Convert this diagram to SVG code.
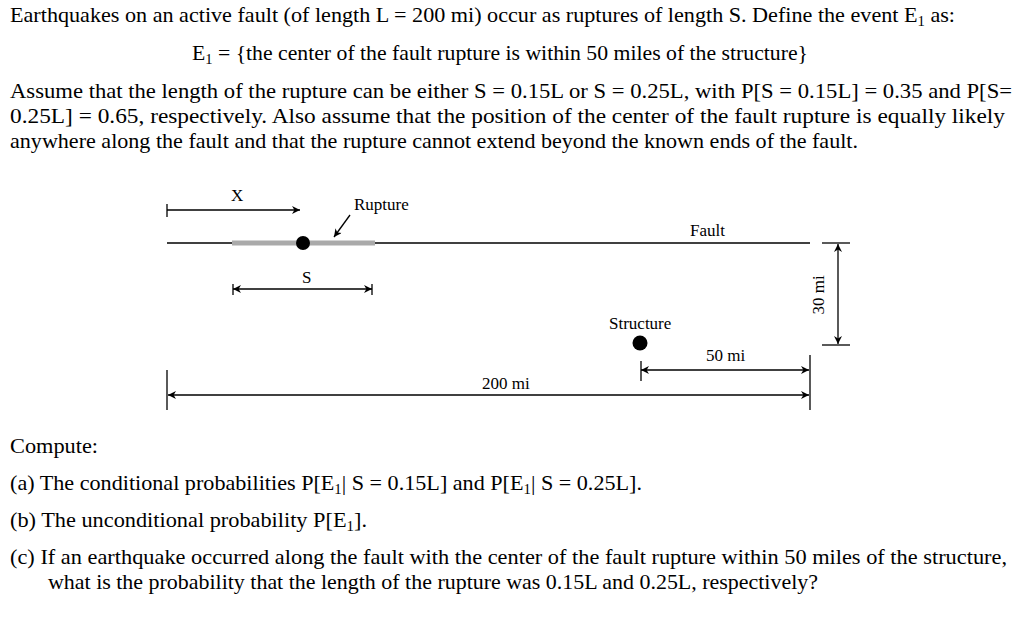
<svg xmlns="http://www.w3.org/2000/svg" width="1030" height="618" viewBox="0 0 1030 618">
<style>
.t{font-family:"Liberation Serif",serif;font-size:21px;fill:#000}
.s{font-family:"Liberation Serif",serif;font-size:17px;fill:#000}
.l{stroke:#000;stroke-width:1.3;fill:none}
</style>
<defs><marker id="a" viewBox="0 0 10 10" refX="10" refY="5" markerWidth="12" markerHeight="8" orient="auto-start-reverse" markerUnits="userSpaceOnUse"><path d="M0,0L10,5L0,10L3,5z" fill="#000"/></marker></defs>
<rect width="1030" height="618" fill="#fff"/>
<g id="text">
<text class="t" x="10" y="22" textLength="945" lengthAdjust="spacingAndGlyphs">Earthquakes on an active fault (of length L = 200 mi) occur as ruptures of length S.  Define the event E<tspan font-size="14" dy="4">1</tspan><tspan dy="-4"> as:</tspan></text>
<text class="t" x="192" y="60" textLength="616" lengthAdjust="spacingAndGlyphs">E<tspan font-size="14" dy="4">1</tspan><tspan dy="-4"> = {the center of the fault rupture is within 50 miles of the structure}</tspan></text>
<text class="t" x="10" y="98" textLength="1002" lengthAdjust="spacingAndGlyphs">Assume that the length of the rupture can be either S = 0.15L or S = 0.25L, with P[S = 0.15L] = 0.35 and P[S=</text>
<text class="t" x="10" y="123" textLength="995" lengthAdjust="spacingAndGlyphs">0.25L] = 0.65, respectively.  Also assume that the position of the center of the fault rupture is equally likely</text>
<text class="t" x="10" y="148" textLength="848" lengthAdjust="spacingAndGlyphs">anywhere along the fault and that the rupture cannot extend beyond the known ends of the fault.</text>
<text class="t" x="10" y="453" textLength="88" lengthAdjust="spacingAndGlyphs">Compute:</text>
<text class="t" x="10" y="490" textLength="632" lengthAdjust="spacingAndGlyphs">(a)  The conditional probabilities P[E<tspan font-size="14" dy="4">1</tspan><tspan dy="-4">| S = 0.15L] and P[E</tspan><tspan font-size="14" dy="4">1</tspan><tspan dy="-4">| S = 0.25L].</tspan></text>
<text class="t" x="10" y="527" textLength="357" lengthAdjust="spacingAndGlyphs">(b)  The unconditional probability P[E<tspan font-size="14" dy="4">1</tspan><tspan dy="-4">].</tspan></text>
<text class="t" x="10" y="564" textLength="997" lengthAdjust="spacingAndGlyphs">(c)  If an earthquake occurred along the fault with the center of the fault rupture within 50 miles of the structure,</text>
<text class="t" x="48" y="589" textLength="770" lengthAdjust="spacingAndGlyphs">what is the probability that the length of the rupture was 0.15L and 0.25L, respectively?</text>
</g>
<g id="fault">
<line class="l" x1="167" y1="243" x2="810" y2="243" stroke-width="2"/>
<line x1="232" y1="243" x2="375" y2="243" stroke="#aaa" stroke-width="5"/>
<circle cx="303" cy="243" r="7" fill="#000"/>
<text class="s" x="690" y="236">Fault</text>
</g>
<g id="rupture"><text class="s" x="354" y="210">Rupture</text></g>
<g id="structure"><text class="s" x="609" y="329">Structure</text><circle cx="640" cy="343" r="7.5" fill="#000"/></g>
<g id="connectors">
<line class="l" x1="167" y1="204" x2="167" y2="217"/>
<line class="l" x1="167" y1="210" x2="300" y2="210" marker-end="url(#a)"/>
<text class="s" x="231" y="201">X</text>
<line class="l" x1="350" y1="215" x2="334" y2="237" marker-end="url(#a)"/>
<line class="l" x1="233" y1="284" x2="233" y2="295"/>
<line class="l" x1="372" y1="284" x2="372" y2="295"/>
<line class="l" x1="233" y1="289" x2="372" y2="289" marker-start="url(#a)" marker-end="url(#a)"/>
<text class="s" x="302" y="283">S</text>
<line class="l" x1="822" y1="243" x2="850" y2="243"/>
<line class="l" x1="822" y1="345" x2="850" y2="345"/>
<line class="l" x1="838" y1="244" x2="838" y2="344" marker-start="url(#a)" marker-end="url(#a)"/>
<text class="s" transform="translate(824,295) rotate(-90)" text-anchor="middle">30 mi</text>
<line class="l" x1="641" y1="361" x2="641" y2="381"/>
<line class="l" x1="641" y1="370" x2="809" y2="370" marker-start="url(#a)" marker-end="url(#a)"/>
<text class="s" x="706" y="361">50 mi</text>
<line class="l" x1="167" y1="370" x2="167" y2="410"/>
<line class="l" x1="810" y1="355" x2="810" y2="410"/>
<line class="l" x1="168" y1="395" x2="809" y2="395" marker-start="url(#a)" marker-end="url(#a)"/>
<text class="s" x="482" y="389">200 mi</text>
</g>
</svg>
